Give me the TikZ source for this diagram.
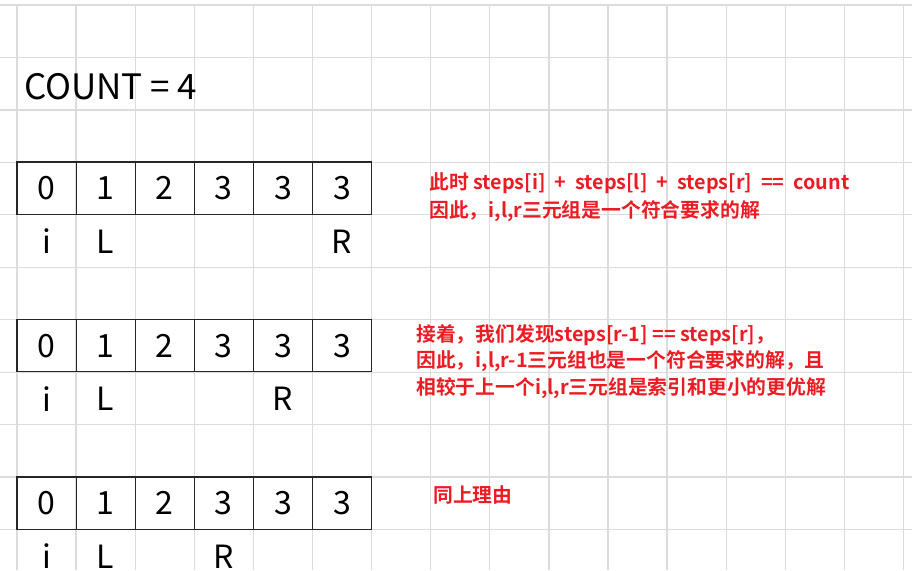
\documentclass[tikz,border=0pt]{standalone}
\usepackage{fontspec}
\setmainfont{Noto Sans CJK SC}[BoldFont={Noto Sans CJK SC Bold}]
\usetikzlibrary{positioning}
\definecolor{gridgray}{RGB}{220,220,220}
\definecolor{notered}{RGB}{236,28,36}
\tikzset{
  gridline/.style={gridgray, line width=1.3pt},
  cell/.style={draw=black!85, line width=1.2pt, minimum width=59.1pt, minimum height=52.45pt,
    inner sep=0pt, font=\fontsize{32}{32}\selectfont},
  ptr/.style={minimum width=59.1pt, minimum height=52.45pt, inner sep=0pt,
    font=\fontsize{32}{32}\selectfont},
  note/.style={text=notered, font=\bfseries\fontsize{19.8}{28}\selectfont, align=left,
    anchor=base west, inner sep=0pt}
}
\begin{document}
\begin{tikzpicture}[x=1pt,y=-1pt]
    \useasboundingbox[fill=white] (0,0) rectangle (920,570);
    % grille du tableur
    \foreach \k in {0,...,10}
        \draw[gridline] (0,{5+52.45*\k}) -- (912,{5+52.45*\k});
    \foreach \k in {0,...,15}
        \draw[gridline] ({17+59.1*\k},5) -- ({17+59.1*\k},570);
    \node[anchor=base west, inner sep=0pt, font=\fontsize{35}{35}\selectfont] (count) at (24,99) {COUNT = 4};
    % tableau 1
    \foreach \v [count=\k from 0] in {0,1,2,3,3,3}
        \node[cell] (a\k) at ({46.55+59.1*\k},188.2) {\v};
    \node[ptr, below=0pt of a0] (ai) {i};
    \node[ptr, below=0pt of a1] (al) {L};
    \node[ptr, below=0pt of a5] (ar) {R};
    \node[note] (n1) at (429,217) {此时 steps[i] \ + \ steps[l] \ + \ steps[r] \ == \ count\\因此，i,l,r三元组是一个符合要求的解};
    % tableau 2
    \foreach \v [count=\k from 0] in {0,1,2,3,3,3}
        \node[cell] (b\k) at ({46.55+59.1*\k},345.6) {\v};
    \node[ptr, below=0pt of b0] (bi) {i};
    \node[ptr, below=0pt of b1] (bl) {L};
    \node[ptr, below=0pt of b4] (br) {R};
    \node[note, font=\bfseries\fontsize{19.8}{26.5}\selectfont] (n2) at (416,394) {接着，我们发现steps[r-1] == steps[r]，\\因此，i,l,r-1三元组也是一个符合要求的解，且\\相较于上一个i,l,r三元组是索引和更小的更优解};
    % tableau 3
    \foreach \v [count=\k from 0] in {0,1,2,3,3,3}
        \node[cell] (c\k) at ({46.55+59.1*\k},503.3) {\v};
    \node[ptr, below=0pt of c0] (ci) {i};
    \node[ptr, below=0pt of c1] (cl) {L};
    \node[ptr, below=0pt of c3] (cr) {R};
    \node[note] (n3) at (433,502) {同上理由};
\end{tikzpicture}
\end{document}
